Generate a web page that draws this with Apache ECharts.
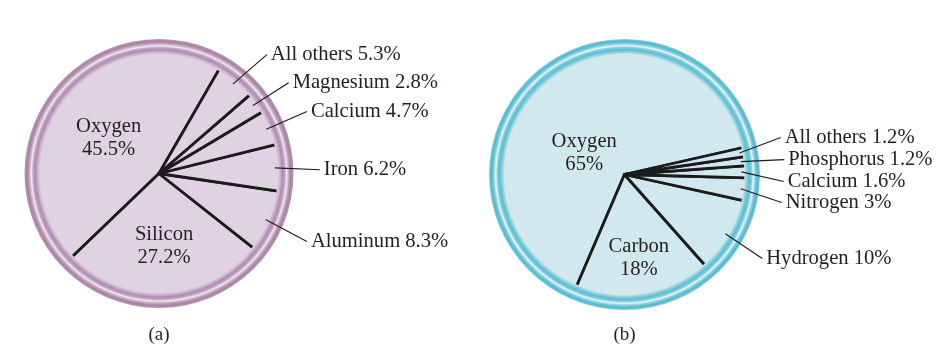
<!DOCTYPE html>
<html><head><meta charset="utf-8">
<script src="https://cdn.jsdelivr.net/npm/echarts@6/dist/echarts.min.js"></script>
<style>html,body{margin:0;padding:0;background:#fff}#c{width:951px;height:361px}</style>
</head><body><div id="c"></div>
<script>
// (a) composition chart a
const crustNames  = ['Oxygen', 'Silicon', 'Aluminum', 'Iron', 'Calcium', 'Magnesium', 'All others'];
const crustValues = [45.5, 27.2, 8.3, 6.2, 4.7, 2.8, 5.3];
// (b) composition chart b
const bodyNames  = ['Oxygen', 'Carbon', 'Hydrogen', 'Nitrogen', 'Calcium', 'Phosphorus', 'All others'];
const bodyValues = [65, 18, 10, 3, 1.6, 1.2, 1.2];
const captions = ['(a)', '(b)'];
const insideA = ['Oxygen', 'Silicon'];
const insideB = ['Oxygen', 'Carbon'];

const FONT = '"Liberation Serif", "Times New Roman", serif';
const FS = 20.6;
const TXT = '#231f20';
const LINE = '#1b1b1b';

const cfgA = {
  center: [159, 173.5], start: 60, rFill: 122, rIn: 119, rOut: 134.5, rLabel: 116, len: 44,
  fill: '#dfd3e1',
  ring: [[119, '#dfd3e1'], [121.5, '#c9b0ca'], [123.5, '#b08bb1'], [126, '#c4a6c5'], [127.5, '#f3eaf3'],
         [129.5, '#c9adca'], [131.8, '#a8829f'], [134.5, '#b899b8']],
  innerNudge: {0: [0, 4], 1: [2, 9]},
  outerNudge: {2: [1, 4.5], 3: [1, 4], 4: [0, -1], 5: [0, 3], 6: [6, 4.5]}
};
const cfgB = {
  center: [624.5, 174.5], start: 12.8, rFill: 123, rIn: 120, rOut: 135.5, rLabel: 117, len: 45,
  fill: '#d2e8ef',
  ring: [[120, '#d2e8ef'], [122.5, '#8ccfde'], [124.8, '#5cbdd3'], [127.2, '#86d0e0'], [128.7, '#ecf8fb'],
         [130.7, '#86d0e0'], [133.2, '#50b6cd'], [135.5, '#8ad0df']],
  innerNudge: {0: [1, 28], 1: [4, 20]},
  outerNudge: {2: [-2, 2], 3: [0, -11], 4: [-2, -9], 5: [-2, -8], 6: [-3, -7]}
};

function buildSeries(names, values, inside, cfg) {
  const data = names.map((n, i) => ({name: n, value: values[i]}));
  const main = {
    type: 'pie', z: 2, center: cfg.center, radius: cfg.rFill, startAngle: cfg.start, clockwise: false,
    silent: true, animation: false, avoidLabelOverlap: false,
    itemStyle: {color: cfg.fill, borderColor: LINE, borderWidth: 2.8, borderJoin: 'round'},
    label: {show: true, position: 'inside', formatter: p => p.name + '\n' + p.value + '%',
      fontFamily: FONT, fontSize: FS, lineHeight: 23, color: TXT},
    labelLine: {show: false},
    emphasis: {disabled: true},
    data: data.map(d => inside.includes(d.name) ? d : Object.assign({}, d, {label: {show: false}})),
    labelLayout: p => {
      const n = cfg.innerNudge[p.dataIndex];
      return n ? {dx: n[0], dy: n[1]} : {};
    }
  };
  const ring = {
    type: 'pie', z: 3, center: cfg.center, radius: [cfg.rIn, cfg.rOut], silent: true, animation: false,
    label: {show: false}, labelLine: {show: false}, emphasis: {disabled: true},
    itemStyle: {borderWidth: 0, color: {type: 'radial', x: cfg.center[0], y: cfg.center[1], r: cfg.rOut, global: true,
      colorStops: cfg.ring.map(s => ({offset: s[0] / cfg.rOut, color: s[1]}))}},
    data: [{name: 'ring', value: 1}]
  };
  const lbl = {
    type: 'pie', z: 4, center: cfg.center, radius: cfg.rLabel, startAngle: cfg.start, clockwise: false,
    silent: true, animation: false, avoidLabelOverlap: true,
    itemStyle: {color: 'rgba(0,0,0,0)', borderWidth: 0},
    emphasis: {disabled: true},
    label: {show: true, position: 'outside', formatter: p => p.name + ' ' + p.value + '%',
      fontFamily: FONT, fontSize: FS, lineHeight: 20, color: TXT, distanceToLabelLine: 0,
      padding: [0, 0, 0, 4], width: 200, overflow: 'none'},
    labelLine: {show: true, length: cfg.len, length2: 0, lineStyle: {color: LINE, width: 1.1}},
    data: data.map(d => inside.includes(d.name) ? Object.assign({}, d, {label: {show: false}, labelLine: {show: false}}) : d),
    labelLayout: p => {
      const n = cfg.outerNudge[p.dataIndex];
      if (!n) return {};
      return {x: p.labelRect.x + n[0], y: p.labelRect.y + p.labelRect.height / 2 + n[1]};
    }
  };
  return [main, ring, lbl];
}

const chart = echarts.init(document.getElementById('c'), null, {renderer: 'canvas'});
chart.setOption({
  backgroundColor: '#ffffff',
  animation: false,
  series: [...buildSeries(crustNames, crustValues, insideA, cfgA), ...buildSeries(bodyNames, bodyValues, insideB, cfgB)],
  graphic: captions.map((t, i) => ({
    type: 'text', x: [cfgA, cfgB][i].center[0], y: 335,
    style: {text: t, align: 'center', verticalAlign: 'middle', font: '19px ' + FONT, fill: TXT}
  }))
});
</script></body></html>
